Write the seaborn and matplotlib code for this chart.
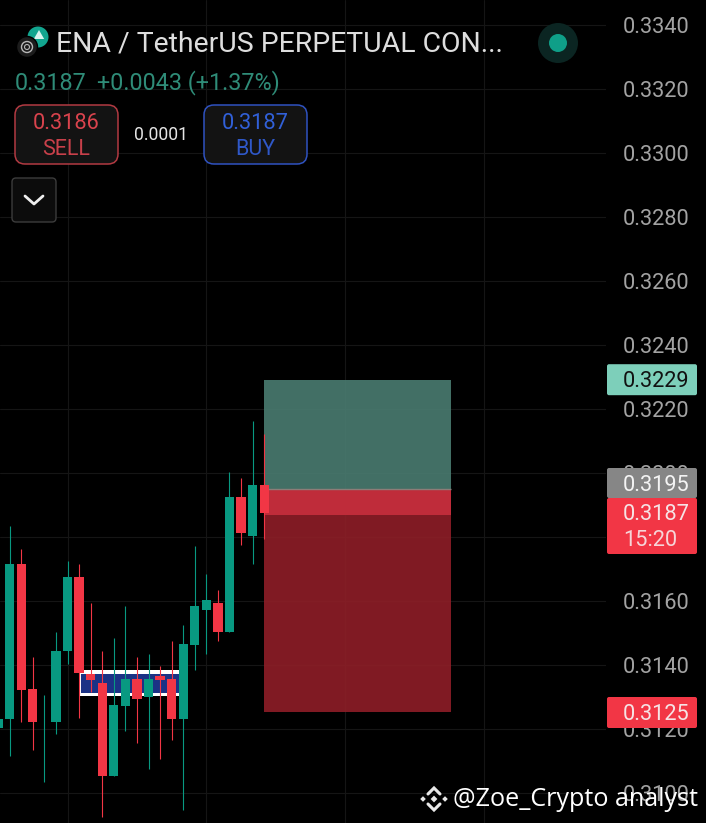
import numpy as np
import pandas as pd
import seaborn as sns
import matplotlib.pyplot as plt
from matplotlib.patches import Circle, FancyBboxPatch, RegularPolygon

# candles, prices
candle_x = [-1, 0, 1, 2, 3, 4, 5, 6, 7, 8, 9, 10, 11, 12, 13, 14, 15, 16, 17, 18, 19, 20, 21, 22]
opens = [.31202, .31232, .31715, .31324, .31224, .31222, .31443, .31674, .31372, .31345, .31053, .31273,
         .31355, .31301, .31366, .31355, .31232, .31462, .31572, .31594, .31502, .31925, .31804, .31963]
closes = [.31232, .31715, .31322, .31222, .31226, .31444, .31674, .31375, .31353, .31053, .31275, .31355,
          .31294, .31357, .31353, .31232, .31466, .31584, .31603, .31502, .31925, .31814, .31963, .31875]
highs = [.31260, .31834, .31763, .31425, .31306, .31502, .31726, .31716, .31595, .31444, .31484, .31585,
         .31426, .31434, .31397, .31475, .31525, .31773, .31683, .31634, .32003, .31984, .32163, .32122]
lows = [.31130, .31116, .31222, .31134, .31035, .31184, .31403, .31234, .31315, .30926, .31053, .31195,
        .31155, .31075, .31105, .31166, .30947, .31384, .31434, .31475, .31502, .31774, .31716, .31794]

# position tool and the blue zone
target_price = 0.3229
entry_price = 0.3195
last_price = 0.3187
stop_price = 0.3125
zone_top = 0.31379
zone_bottom = 0.31306

price_ticks = [0.3340, 0.3320, 0.3300, 0.3280, 0.3260, 0.3240, 0.3220, 0.3200,
               0.3180, 0.3160, 0.3140, 0.3120, 0.3100]
time_grid = [5, 17, 29, 41]

GREEN = '#089981'
RED = '#f23645'
GRID = '#151515'

sns.set_theme(style='dark', rc={'figure.facecolor': 'black', 'axes.facecolor': 'black'})
plt.rcParams['font.family'] = ['Roboto', 'DejaVu Sans']

df = pd.DataFrame({'x': candle_x, 'open': opens, 'close': closes, 'high': highs, 'low': lows})
df['bottom'] = df[['open', 'close']].min(axis=1)
df['height'] = (df['close'] - df['open']).abs()
df['up'] = df['close'] >= df['open']

fig = plt.figure(figsize=(7.06, 8.23), dpi=100)
ax = fig.add_axes([0, 0, 606 / 706, 1])

# grid
for t in time_grid:
    ax.axvline(t, color=GRID, lw=0.8, zorder=0)
for p in price_ticks:
    ax.axhline(p, color=GRID, lw=0.8, zorder=0)

# blue zone
ax.fill_between([6.08, 15], zone_bottom - 0.00004, zone_top + 0.00004, color='white', lw=0, zorder=1)
ax.fill_between([6.2, 15], zone_bottom + 0.00006, zone_top - 0.00006, color='#1b3285', lw=0, zorder=1.1)

# long / short position boxes
ax.fill_between([22, 38.14], entry_price, target_price + 0.00002, color='#4a7c71', alpha=0.9, lw=0, zorder=1)
ax.fill_between([22, 38.14], stop_price + 0.00002, last_price, color='#8f1e27', alpha=0.9, lw=0, zorder=1)
ax.fill_between([22, 38.14], last_price, entry_price, color='#bf2c3a', lw=0, zorder=1)
ax.hlines(entry_price, 22, 38.14, color='#8c7d78', lw=1, zorder=1.2)

# wicks then bodies
for is_up, col in [(True, GREEN), (False, RED)]:
    sub = df[df['up'] == is_up]
    ax.vlines(sub['x'], sub['low'], sub['high'], color=col, lw=0.8, zorder=2)
    sns.barplot(data=sub, x='x', y='height', bottom=sub['bottom'].values, native_scale=True,
                color=col, saturation=1, width=0.8, errorbar=None, linewidth=0, ax=ax, zorder=3)

ax.set_xlim((0 - 9.67) / 11.57, (606 - 9.67) / 11.57)
ax.set_ylim(0.3340 - 798 / 32000, 0.3340 + 25 / 32000)
ax.set_xlabel('')
ax.set_ylabel('')
ax.set_xticks([])
ax.yaxis.tick_right()
ax.set_yticks(price_ticks)
ax.set_yticklabels([f'{p:.4f}' for p in price_ticks], color='#a3a3a3', fontsize=15.7)
ax.tick_params(axis='y', length=0, pad=12)
sns.despine(ax=ax, left=True, right=True, top=True, bottom=True)


def price_y(p):
    return 25 + (0.3340 - p) * 32000


# overlay in pixel coordinates for the app's header and price tags
ui = fig.add_axes([0, 0, 1, 1], facecolor='none')
ui.set_xlim(0, 706)
ui.set_ylim(823, 0)
ui.axis('off')


def box(x0, y0, x1, y1, face, edge='none', lw=1.0, r=3):
    ui.add_patch(FancyBboxPatch((x0 + r, y0 + r), x1 - x0 - 2 * r, y1 - y0 - 2 * r,
                                boxstyle=f'round,pad={r},rounding_size={r}',
                                fc=face, ec=edge, lw=lw))


# header
ui.add_patch(Circle((38, 37), 10.5, fc='#12a58f', ec='none'))
ui.add_patch(RegularPolygon((39, 36), 3, radius=6, orientation=np.pi, fc='#d8f3ee', ec='none'))
ui.add_patch(Circle((27, 47), 10.5, fc='#1c1c1c', ec='black', lw=1))
ui.add_patch(Circle((27, 47), 5.5, fc='none', ec='#b8b8b8', lw=1))
ui.add_patch(Circle((27, 47), 2.5, fc='none', ec='#b8b8b8', lw=0.8))
ui.text(56, 43.5, 'ENA / TetherUS PERPETUAL CON...', color='#dedede', fontsize=20.4, va='center')
ui.text(15, 83, '0.3187', color='#2f8c78', fontsize=16.8, va='center')
ui.text(97, 83, '+0.0043 (+1.37%)', color='#2f8c78', fontsize=16.8, va='center')
ui.add_patch(Circle((558, 43), 20, fc='#0b2522', ec='none'))
ui.add_patch(Circle((558, 43), 9, fc='#0f9f88', ec='none'))

# sell / buy buttons
box(15, 105, 118, 164, '#131313', '#b23a42', 1.1, r=10)
ui.text(66.5, 123, '0.3186', color='#d9434d', fontsize=15.7, ha='center', va='center')
ui.text(66.5, 149, 'SELL', color='#c8404a', fontsize=15.5, ha='center', va='center')
ui.text(161, 134.5, '0.0001', color='#e4e4e4', fontsize=12.7, ha='center', va='center')
box(204, 105, 307, 164, '#131313', '#2f52c0', 1.1, r=10)
ui.text(255.5, 123, '0.3187', color='#3160d8', fontsize=15.7, ha='center', va='center')
ui.text(255.5, 149, 'BUY', color='#2f58c8', fontsize=15.5, ha='center', va='center')
box(12, 178, 56, 222, '#0c0c0c', '#3c3c3c', 1.0, r=4)
ui.plot([25, 34, 43], [196, 204, 196], color='#eeeeee', lw=2, solid_capstyle='round')

# price tags
box(607, price_y(target_price) - 16, 697, price_y(target_price) + 15, '#7dcfba', r=2)
ui.text(623, price_y(target_price) + 1, f'{target_price:.4f}', color='#111111', fontsize=15.7, va='center')
box(607, price_y(entry_price) - 21, 697, price_y(entry_price) + 9, '#868686', r=2)
ui.text(623, price_y(entry_price) - 4, f'{entry_price:.4f}', color='#f4f4f4', fontsize=15.7, va='center')
box(607, 498, 697, 554, RED, r=2)
ui.text(623, 514, f'{last_price:.4f}', color='#f6e3e5', fontsize=15.7, va='center')
ui.text(623, 540, '15:20', color='#f6d5d8', fontsize=15.7, va='center')
box(607, price_y(stop_price) - 16, 697, price_y(stop_price) + 15, RED, r=2)
ui.text(623, price_y(stop_price) + 1, f'{stop_price:.4f}', color='#f6e3e5', fontsize=15.7, va='center')

# watermark
wm = '#e8e8e8'
ui.plot([428, 434, 440], [794, 788, 794], color=wm, lw=2.2, solid_joinstyle='miter')
ui.plot([428, 434, 440], [804, 810, 804], color=wm, lw=2.2, solid_joinstyle='miter')
for dx, r in [(-11, 2.8), (0, 3.4), (11, 2.8)]:
    ui.add_patch(RegularPolygon((434 + dx, 799), 4, radius=r, fc=wm, ec='none'))
ui.text(453, 800, '@Zoe_Crypto analyst', color='white', fontsize=18.05, va='center',
        family=['Open Sans', 'DejaVu Sans'])

fig.savefig('out.png', dpi=100, facecolor='black')
